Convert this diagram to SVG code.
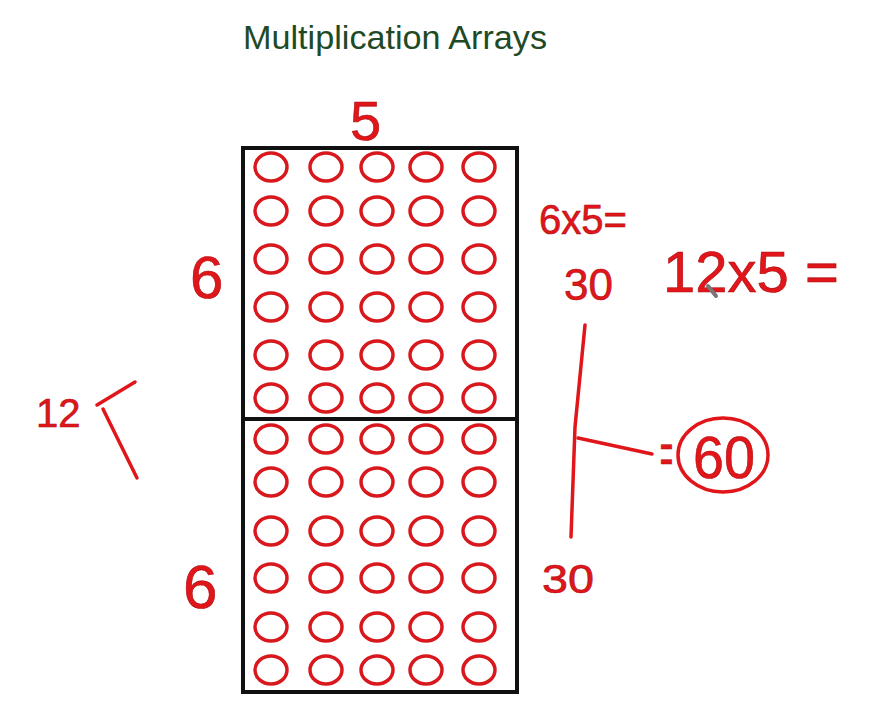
<svg xmlns="http://www.w3.org/2000/svg" width="882" height="720" viewBox="0 0 882 720">
<style>
.title{font-family:"Liberation Sans",Arial,sans-serif;font-size:33px;fill:#1e4a26}
.hw{font-family:"Liberation Sans",Arial,sans-serif;fill:#e0161b;stroke:#b00c10;stroke-width:0.6}
.dot{fill:none;stroke:#d8181c;stroke-width:3.5}
.box{fill:none;stroke:#111;stroke-width:4}
.ink{fill:none;stroke:#e0161b;stroke-width:3.5;stroke-linecap:round;stroke-linejoin:round}
</style>
<defs>
<ellipse id="c" rx="16" ry="14" class="dot"/>
</defs>
<rect width="882" height="720" fill="#fff"/>
<g id="title"><text class="title" x="243" y="49" textLength="304" lengthAdjust="spacingAndGlyphs">Multiplication Arrays</text></g>

<g id="array-top">
<rect class="box" x="243" y="148" width="274" height="271"/>
<g id="rows-top">
<use href="#c" x="271" y="167"/><use href="#c" x="326" y="167"/><use href="#c" x="377" y="167"/><use href="#c" x="426" y="167"/><use href="#c" x="479" y="167"/>
<use href="#c" x="271" y="211"/><use href="#c" x="326" y="211"/><use href="#c" x="377" y="211"/><use href="#c" x="426" y="211"/><use href="#c" x="479" y="211"/>
<use href="#c" x="271" y="259"/><use href="#c" x="326" y="259"/><use href="#c" x="377" y="259"/><use href="#c" x="426" y="259"/><use href="#c" x="479" y="259"/>
<use href="#c" x="271" y="307"/><use href="#c" x="326" y="307"/><use href="#c" x="377" y="307"/><use href="#c" x="426" y="307"/><use href="#c" x="479" y="307"/>
<use href="#c" x="271" y="355"/><use href="#c" x="326" y="355"/><use href="#c" x="377" y="355"/><use href="#c" x="426" y="355"/><use href="#c" x="479" y="355"/>
<use href="#c" x="271" y="398"/><use href="#c" x="326" y="398"/><use href="#c" x="377" y="398"/><use href="#c" x="426" y="398"/><use href="#c" x="479" y="398"/>
</g>
</g>

<g id="array-bottom">
<rect class="box" x="243" y="419" width="274" height="273"/>
<g id="rows-bottom">
<use href="#c" x="271" y="439"/><use href="#c" x="326" y="439"/><use href="#c" x="377" y="439"/><use href="#c" x="426" y="439"/><use href="#c" x="479" y="439"/>
<use href="#c" x="271" y="482"/><use href="#c" x="326" y="482"/><use href="#c" x="377" y="482"/><use href="#c" x="426" y="482"/><use href="#c" x="479" y="482"/>
<use href="#c" x="271" y="531"/><use href="#c" x="326" y="531"/><use href="#c" x="377" y="531"/><use href="#c" x="426" y="531"/><use href="#c" x="479" y="531"/>
<use href="#c" x="271" y="578"/><use href="#c" x="326" y="578"/><use href="#c" x="377" y="578"/><use href="#c" x="426" y="578"/><use href="#c" x="479" y="578"/>
<use href="#c" x="271" y="627"/><use href="#c" x="326" y="627"/><use href="#c" x="377" y="627"/><use href="#c" x="426" y="627"/><use href="#c" x="479" y="627"/>
<use href="#c" x="271" y="670"/><use href="#c" x="326" y="670"/><use href="#c" x="377" y="670"/><use href="#c" x="426" y="670"/><use href="#c" x="479" y="670"/>
</g>
</g>

<g id="labels">
<text class="hw" x="350" y="140" font-size="56">5</text>
<text class="hw" x="190" y="298" font-size="60">6</text>
<text class="hw" x="183" y="608" font-size="62">6</text>
<text class="hw" x="36" y="427" font-size="40">12</text>
<text class="hw" x="539" y="234" font-size="42" textLength="88" lengthAdjust="spacingAndGlyphs">6x5=</text>
<text class="hw" x="564" y="300" font-size="44">30</text>
<text class="hw" x="542" y="593" font-size="40" textLength="52" lengthAdjust="spacingAndGlyphs">30</text>
<text class="hw" x="663" y="292" font-size="58">12x5 =</text>
<text class="hw" x="660" y="474" font-size="60" textLength="13" lengthAdjust="spacingAndGlyphs">=</text>
<text class="hw" x="693" y="478" font-size="60" textLength="62" lengthAdjust="spacingAndGlyphs">60</text>
</g>

<g id="connectors">
<path class="ink" d="M135 382 L97 405"/>
<path class="ink" d="M103 409 L137 478"/>
<path class="ink" d="M585 325 L575 427 L571 537"/>
<path class="ink" d="M578 438 L652 454"/>
<ellipse class="ink" cx="723" cy="455" rx="45" ry="37"/>
</g>

<g id="cursor">
<path d="M708 286 L716 296" stroke="#777" stroke-width="4" stroke-linecap="round"/>
</g>
</svg>
